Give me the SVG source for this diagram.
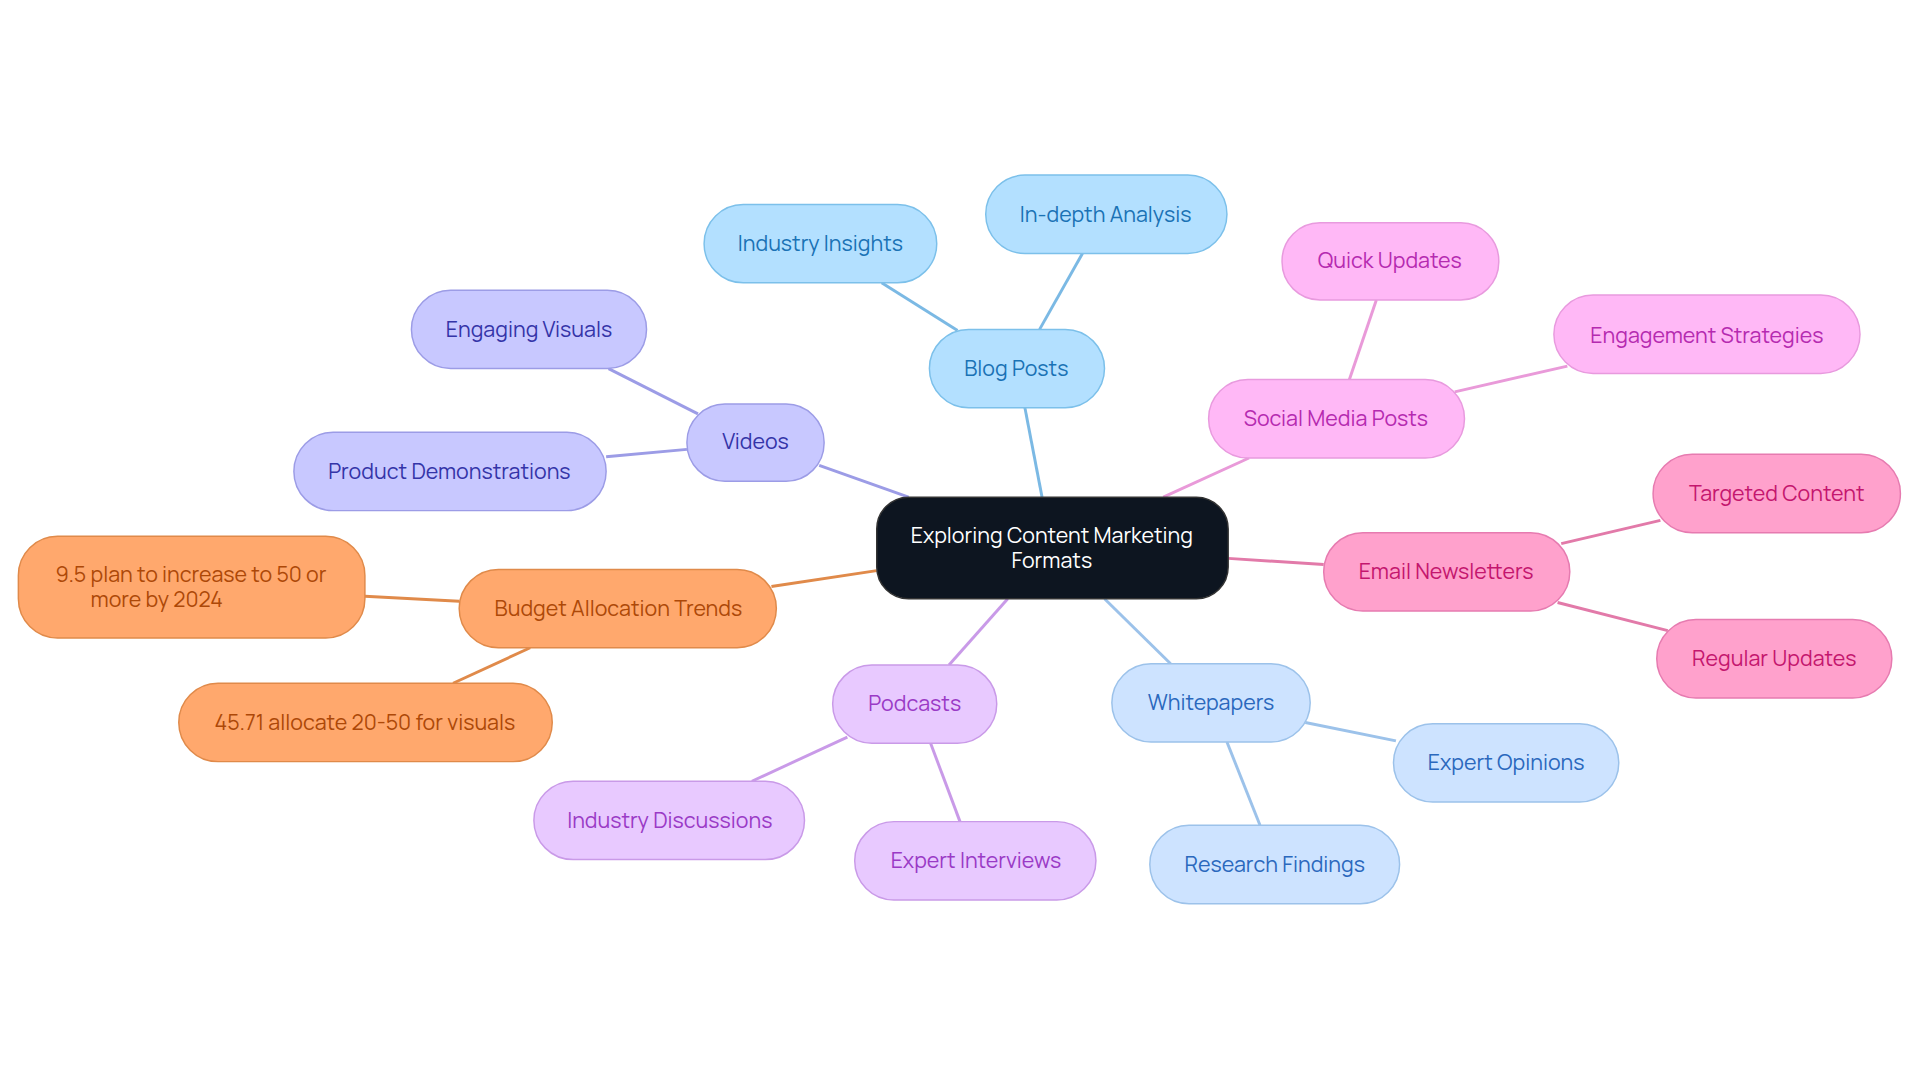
<svg xmlns="http://www.w3.org/2000/svg" width="1920" height="1083" viewBox="0 0 1920 1083">
<style>
text{font-family:Manrope,Inter,"Liberation Sans",sans-serif;font-size:17.5px;text-anchor:middle;dominant-baseline:central}
rect{stroke-width:1.2}
line{stroke-width:2.4;fill:none}
.b rect{fill:#b3e0ff;stroke:#7cc0ea}.b text{fill:#1a72b5}
.v rect{fill:#c8c8ff;stroke:#9c9ce6}.v text{fill:#3434a8}
.s rect{fill:#ffb8f6;stroke:#e89ade}.s text{fill:#b52ab0}
.e rect{fill:#ffa1cc;stroke:#e67bb0}.e text{fill:#c4166e}
.g rect{fill:#ffa86d;stroke:#e08a4a}.g text{fill:#ad4808}
.p rect{fill:#e8c9ff;stroke:#c99ae8}.p text{fill:#9a3ac6}
.w rect{fill:#cde3ff;stroke:#9cc2ea}.w text{fill:#2a68bd}
</style>
<rect width="1920" height="1083" fill="#fff"/>
<g transform="scale(1.2245)">
<g id="connectors">
<g stroke="#7bb9e4"><line x1="851" y1="406" x2="837" y2="333"/><line x1="782" y1="270" x2="720" y2="231"/><line x1="849" y1="269" x2="884" y2="207"/></g>
<g stroke="#9c9ce6"><line x1="742" y1="406" x2="669" y2="380"/><line x1="570" y1="338" x2="497" y2="301"/><line x1="561" y1="367" x2="495" y2="373"/></g>
<g stroke="#e99ad9"><line x1="950" y1="406" x2="1020" y2="374"/><line x1="1102" y1="310" x2="1124" y2="245"/><line x1="1188" y1="320" x2="1280" y2="299"/></g>
<g stroke="#e27aa9"><line x1="1003" y1="456" x2="1081" y2="461"/><line x1="1275" y1="444" x2="1356" y2="425"/><line x1="1272" y1="492" x2="1362" y2="515"/></g>
<g stroke="#e08a4a"><line x1="716" y1="466" x2="630" y2="479"/><line x1="375" y1="491" x2="298" y2="487"/><line x1="433" y1="529" x2="370" y2="558"/></g>
<g stroke="#c99ae8"><line x1="823" y1="489" x2="775" y2="543"/><line x1="692" y1="602" x2="614" y2="638"/><line x1="760" y1="607" x2="784" y2="671"/></g>
<g stroke="#9cc2ea"><line x1="902" y1="489" x2="956" y2="542"/><line x1="1066" y1="590" x2="1140" y2="605"/><line x1="1002" y1="606" x2="1029" y2="674"/></g>
</g>
<g id="center"><rect x="716" y="406" width="287" height="83" rx="26" fill="#0d1520" stroke="#333"/><text x="859" y="436.5" fill="#fff">Exploring Content Marketing</text><text x="859" y="457" fill="#fff">Formats</text></g>
<g id="blog" class="b"><rect x="759" y="269" width="143" height="64" rx="32"/><text x="830" y="300">Blog Posts</text></g>
<g id="insights" class="b"><rect x="575" y="167" width="190" height="64" rx="32"/><text x="670" y="198">Industry Insights</text></g>
<g id="analysis" class="b"><rect x="805" y="143" width="197" height="64" rx="32"/><text x="903" y="174">In-depth Analysis</text></g>
<g id="videos" class="v"><rect x="561" y="330" width="112" height="63" rx="31"/><text x="617" y="360">Videos</text></g>
<g id="visuals" class="v"><rect x="336" y="237" width="192" height="64" rx="32"/><text x="432" y="268">Engaging Visuals</text></g>
<g id="demos" class="v"><rect x="240" y="353" width="255" height="64" rx="32"/><text x="367" y="384">Product Demonstrations</text></g>
<g id="social" class="s"><rect x="987" y="310" width="209" height="64" rx="32"/><text x="1091" y="341">Social Media Posts</text></g>
<g id="quick" class="s"><rect x="1047" y="182" width="177" height="63" rx="31"/><text x="1135" y="212">Quick Updates</text></g>
<g id="engage" class="s"><rect x="1269" y="241" width="250" height="64" rx="32"/><text x="1394" y="273">Engagement Strategies</text></g>
<g id="email" class="e"><rect x="1081" y="435" width="201" height="64" rx="32"/><text x="1181" y="466">Email Newsletters</text></g>
<g id="targeted" class="e"><rect x="1350" y="371" width="202" height="64" rx="32"/><text x="1451" y="402">Targeted Content</text></g>
<g id="regular" class="e"><rect x="1353" y="506" width="192" height="64" rx="32"/><text x="1449" y="537">Regular Updates</text></g>
<g id="budget" class="g"><rect x="375" y="465" width="259" height="64" rx="32"/><text x="505" y="496">Budget Allocation Trends</text></g>
<g id="plan" class="g"><rect x="15" y="438" width="283" height="83" rx="32"/><text x="156" y="468.5">9.5 plan to increase to 50 or</text><text x="128" y="489">more by 2024</text></g>
<g id="allocate" class="g"><rect x="146" y="558" width="305" height="64" rx="32"/><text x="298" y="589">45.71 allocate 20-50 for visuals</text></g>
<g id="podcasts" class="p"><rect x="680" y="543" width="134" height="64" rx="32"/><text x="747" y="574">Podcasts</text></g>
<g id="discussions" class="p"><rect x="436" y="638" width="221" height="64" rx="32"/><text x="547" y="669">Industry Discussions</text></g>
<g id="interviews" class="p"><rect x="698" y="671" width="197" height="64" rx="32"/><text x="797" y="702">Expert Interviews</text></g>
<g id="whitepapers" class="w"><rect x="908" y="542" width="162" height="64" rx="32"/><text x="989" y="573">Whitepapers</text></g>
<g id="opinions" class="w"><rect x="1138" y="591" width="184" height="64" rx="32"/><text x="1230" y="622">Expert Opinions</text></g>
<g id="research" class="w"><rect x="939" y="674" width="204" height="64" rx="32"/><text x="1041" y="705">Research Findings</text></g>
</g>
</svg>
